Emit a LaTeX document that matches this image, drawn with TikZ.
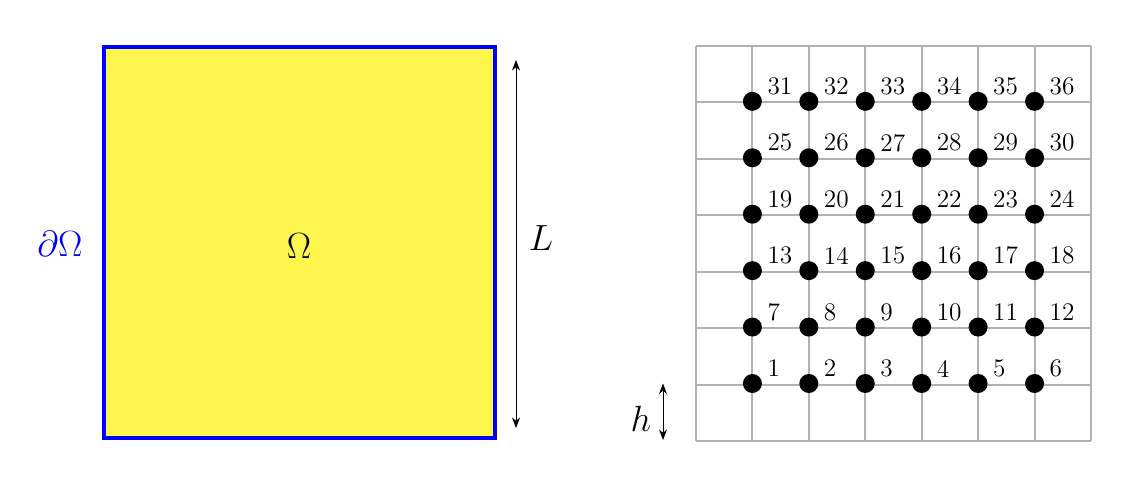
\documentclass[tikz,border=0pt]{standalone}
\usetikzlibrary{arrows.meta}
\begin{document}
\begin{tikzpicture}[x=0.02cm,y=-0.02cm,
  dot/.style={circle,fill=black,inner sep=0pt,minimum size=0.38cm},
  lab/.style={font=\Large,anchor=west,inner sep=1pt},
  dim/.style={{Stealth[length=6pt,width=4.5pt]}-{Stealth[length=6pt,width=4.5pt]},thin},
  gridline/.style={gray!60,line width=1.2pt}]
\useasboundingbox (0,0) rectangle (1126,482);
\fill[yellow!70!white] (104,47) rectangle (495,438);
\draw[blue,line width=2.2pt] (104,47) rectangle (495,438);
\node[blue,font=\huge] (dO) at (60,244) {$\partial\Omega$};
\node[font=\huge] (O) at (299,246) {$\Omega$};
\coordinate (La) at (516,60); \coordinate (Lb) at (516,428);
\draw[dim] (La) -- (Lb);
\node[font=\huge] (L) at (541,238) {$L$};
\foreach \i in {0,...,7}{
  \draw[gridline] ({696+56.43*\i},46) -- ({696+56.43*\i},441);
  \draw[gridline] (696,{46+56.43*\i}) -- (1091,{46+56.43*\i});
}
\foreach \r in {0,...,5}{
  \foreach \c in {0,...,5}{
    \pgfmathtruncatemacro{\n}{\r*6+\c+1}
    \node[dot] (p\n) at ({752.4+56.43*\c},{383.5-56.43*\r}) {};
    \node[lab] (t\n) at ({752.4+56.43*\c+13},{383.5-56.43*\r-15}) {\n};
  }}
\coordinate (ha) at (663,383.5); \coordinate (hb) at (663,440);
\draw[dim] (ha) -- (hb);
\node[font=\huge] (h) at (641,419) {$h$};
\end{tikzpicture}
\end{document}
